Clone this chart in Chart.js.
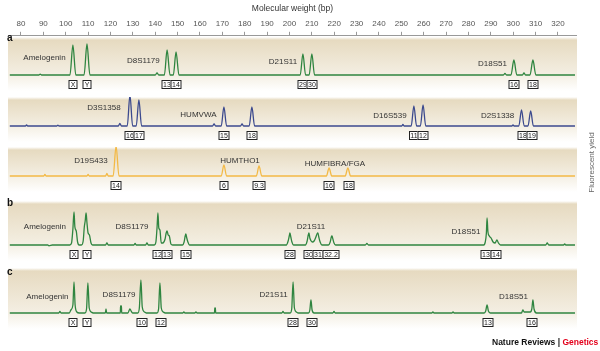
<!DOCTYPE html>
<html>
<head>
<meta charset="utf-8">
<script src="https://cdn.jsdelivr.net/npm/chart.js@4.4.1/dist/chart.umd.min.js"></script>
<style>
  body { margin: 0; background: #fff; font-family: 'Liberation Sans', Arial, sans-serif; }
  #fig { position: relative; width: 600px; height: 351px; overflow: hidden; }
  canvas { position: absolute; left: 8px; }
  .lbl { position: absolute; font-weight: bold; font-size: 10px; color: #111; }
  #yield { position: absolute; left: 556px; top: 158px; width: 70px; text-align: center;
           font-size: 8px; color: #666; transform: rotate(-90deg); }
  #credit { position: absolute; left: 492px; top: 337px; font-size: 8.5px; font-weight: bold; color: #111; }
  #credit span { color: #e3001b; }
</style>
</head>
<body>
<div id="fig">
  <canvas id="axis" width="569" height="72" style="top:0px"></canvas>
  <canvas id="rowA1" width="569" height="60" style="top:37px"></canvas>
  <canvas id="rowA2" width="569" height="50" style="top:97px"></canvas>
  <canvas id="rowA3" width="569" height="50" style="top:147px"></canvas>
  <canvas id="rowB" width="569" height="62" style="top:201px"></canvas>
  <canvas id="rowC" width="569" height="64" style="top:268px"></canvas>
  <div class="lbl" style="left:7px;top:32px">a</div>
  <div class="lbl" style="left:7px;top:197px">b</div>
  <div class="lbl" style="left:7px;top:266px">c</div>
  <div id="yield">Fluorescent yield</div>
  <div id="credit">Nature Reviews | <span>Genetics</span></div>
</div>
<script>
// size range of the trace (bp)
const bpMin = 74.2, bpMax = 328.5;

// traces: [size in bp, fluorescence]
const traceA1 = [[75,0],[88,0],[88.6,0.8],[89.2,0],
  [101.9,0],[103.2,30],[104.5,0],[108.2,0],[109.5,31],[110.8,0],
  [140.0,0],[140.8,2],[141.6,0],[144.1,0],[145.3,25],[146.6,0],[148.1,0],[149.3,23],[150.6,0],
  [204.8,0],[206.0,21],[207.2,0],[208.8,0],[210.0,21],[211.2,0],
  [295.6,0],[296.3,1.5],[297.0,0],[299.0,0],[300.3,15],[301.6,0],
  [304.1,0],[304.8,2],[305.5,0],[307.5,0],[308.8,15],[310.1,0],[327.6,0]];

const traceA2 = [[75,0],[82,0],[82.5,1],[83,0],[96,0],[96.5,0.8],[97,0],
  [123.5,0],[124.2,2.5],[124.9,0],[127.5,0],[128.7,31],[129.9,0],[131.5,0],[132.7,26],[133.9,0],
  [165.6,0],[166.3,2],[167.0,0],[169.5,0],[170.7,19],[171.9,0],
  [178.1,0],[178.8,2],[179.5,0],[182.0,0],[183.2,19],[184.4,0],
  [250.2,0],[250.7,1.5],[251.2,0],[254.4,0],[255.6,20],[256.8,0],[258.5,0],[259.7,21],[260.9,0],
  [299.4,0],[299.9,1],[300.4,0],[302.5,0],[303.7,16],[304.9,0],[306.6,0],[307.8,15],[309.0,0],[327.6,0]];

const traceA3 = [[75,0],[90.2,0],[90.7,1.5],[91.2,0],[109.5,0],[110.0,1.5],[110.5,0],
  [117.8,0],[118.4,2.5],[119.0,0],[121.2,0],[122.5,30],[123.8,0],
  [169.5,0],[170.7,11],[171.9,0],[185.2,0],[186.4,10],[187.6,0],
  [216.5,0],[217.7,8],[218.9,0],[224.9,0],[226.1,8],[227.3,0],[327.6,0]];

const traceB = [[75,0],[92,0],[92.5,-0.8],[94,0],
  [101.8,0],[102.6,2],[103.2,16],[103.7,33],[104.1,18],[104.7,14],[105.3,3],[106.0,0],
  [107.0,0],[107.8,4],[108.3,18],[108.7,24],[109.1,32],[109.5,22],[110.0,12],[110.6,10],[111.3,2],[112.0,0],
  [117.8,0],[118.4,2],[119.0,0],[130.5,0],[131.0,1.5],[131.5,0],[135.7,0],[136.3,2],[136.9,0],
  [139.6,0],[140.3,3],[140.8,17],[141.2,32],[141.6,17],[142.1,15],[142.7,2],
  [143.4,2],[144.4,6],[144.9,12],[145.3,14],[145.8,10],[146.3,9],[147.0,1],[147.8,0],
  [152.2,0],[152.9,3],[153.4,9],[153.7,11],[154.1,7],[154.6,3],[155.3,0],
  [198.6,0],[199.4,4],[199.9,9],[200.2,12],[200.6,8],[201.1,3],[201.8,0],
  [207.1,0],[207.9,4],[208.4,10],[208.7,12],[209.1,7],[209.7,4],[210.2,3],
  [211.0,4],[211.8,8],[212.3,11],[212.7,12],[213.1,8],[213.7,3],[214.5,0],
  [217.4,0],[218.2,3],[218.7,8],[219.0,9],[219.4,6],[219.9,2],[220.6,0],
  [233.9,0],[234.6,1.5],[235.3,0],
  [286.8,0],[287.5,3],[288.0,12],[288.3,27],[288.7,13],[289.3,9],[290.1,7],[291.0,3],[291.9,2],[292.7,5],[293.4,2],[294.3,0],
  [314.5,0],[315.2,2],[315.9,0],[322.5,0],[323.0,1],[323.5,0],[327.6,0]];

const traceC = [[75,0],[96.9,0],[97.4,1.5],[97.9,0],
  [101.6,0],[102.3,3],[103.2,8],[103.7,31],[104.2,8],[105.0,1],[106.0,0],
  [108.6,0],[109.3,4],[109.9,30],[110.5,5],[111.4,1],[112.3,0],
  [117.7,0],[118.0,4],[118.3,0],[124.4,0],[124.5,7],[124.9,7],[125.0,0],
  [127.8,0],[128.4,3],[128.7,4],[129.2,2],[129.9,0],
  [132.2,0],[132.9,5],[133.6,33],[134.2,6],[135.2,1],[136.0,0],
  [140.8,0],[141.5,4],[142.1,30],[142.7,5],[143.6,1],[144.5,0],
  [152.3,0],[152.8,1],[153.3,0],[157.7,0],[158.2,1],[158.7,0],
  [166.5,0],[166.6,5],[166.9,5],[167.0,0],[196.6,0],[197.1,1.5],[197.6,0],
  [200.3,0],[201.0,4],[201.6,31],[202.2,5],[203.1,1],[204.0,0],
  [208.5,0],[209.1,3],[209.6,13],[210.1,3],[211.0,0],[219.4,0],[219.9,1.5],[220.4,0],
  [263.6,0],[264.1,1],[264.6,0],[272.6,0],[273.1,1],[273.6,0],
  [287.0,0],[287.7,2],[288.3,8],[288.9,2],[289.8,0],
  [303.7,0],[304.3,3],[304.9,1],[307.6,1],[308.3,4],[308.8,13],[309.3,4],[310.4,0],[327.6,0]];

// allele calls: [label, size in bp]
const allelesA1 = [['X',103.2],['Y',109.5],['13',145.3],['14',149.3],['29',206.0],['30',210.0],['16',300.3],['18',308.8]];
const allelesA2 = [['16',128.9],['17',132.9],['15',170.7],['18',183.4],['11',255.6],['12',259.7],['18',304.2],['19',308.4]];
const allelesA3 = [['14',122.5],['6',170.7],['9.3',186.6],['16',217.7],['18',226.4]];
const allelesB = [['X',103.5],['Y',109.3],['12',141.2],['13',145.4],['15',153.7],['28',200.2],['30',208.7],['31',212.8],['32.2',218.6],['13',288.0],['14',292.4]];
const allelesC = [['X',103.4],['Y',109.6],['10',134.2],['12',142.5],['28',201.6],['30',210.2],['13',288.6],['16',308.6]];

// locus names: [name, size in bp, fluorescence]
const lociA1 = [['Amelogenin',90.5,17],['D8S1179',134.7,14],['D21S11',197.1,13],['D18S51',290.7,11]];
const lociA2 = [['D3S1358',117.1,18],['HUMVWA',159.3,11],['D16S539',244.9,10],['D2S1338',293.0,10]];
const lociA3 = [['D19S433',111.3,15],['HUMTHO1',177.9,15],['HUMFIBRA/FGA',220.3,12]];
const lociB = [['Amelogenin',90.7,18],['D8S1179',129.6,18],['D21S11',209.6,18],['D18S51',278.9,13]];
const lociC = [['Amelogenin',91.8,16],['D8S1179',123.8,18],['D21S11',192.9,18],['D18S51',300.1,16]];

const FONT = "'Liberation Sans', Arial, sans-serif";

function makeRow(id, trace, color, alleles, loci, yMin, yMax) {
  const deco = {
    id: 'deco',
    beforeDraw(chart) {
      const ctx = chart.ctx, a = chart.chartArea;
      const base = chart.scales.y.getPixelForValue(0);
      const h = a.bottom - a.top;
      const g = ctx.createLinearGradient(0, a.top, 0, a.bottom);
      g.addColorStop(0, '#ffffff');
      g.addColorStop(3 / h, '#e6dac0');
      g.addColorStop((base - a.top) / h, '#f4efe3');
      g.addColorStop(Math.min(1, (base - a.top + 16) / h), '#ffffff');
      g.addColorStop(1, '#ffffff');
      ctx.save();
      ctx.fillStyle = g;
      ctx.fillRect(a.left, a.top, a.right - a.left, h);
      ctx.restore();
    },
    afterDatasetsDraw(chart) {
      const ctx = chart.ctx, xs = chart.scales.x, ys = chart.scales.y;
      const base = ys.getPixelForValue(0);
      ctx.save();
      ctx.textAlign = 'center';
      ctx.textBaseline = 'middle';
      ctx.font = '8px ' + FONT;
      ctx.fillStyle = '#333';
      loci.forEach(([name, bp, v]) => {
        ctx.fillText(name, xs.getPixelForValue(bp), ys.getPixelForValue(v));
      });
      ctx.font = '7px ' + FONT;
      alleles.forEach(([txt, bp]) => {
        const px = Math.round(xs.getPixelForValue(bp));
        const w = Math.max(9, Math.round(ctx.measureText(txt).width + 3));
        const top = Math.round(base) + 5;
        ctx.fillStyle = '#fff';
        ctx.fillRect(px - w / 2, top, w, 9);
        ctx.strokeStyle = '#222';
        ctx.lineWidth = 1;
        ctx.strokeRect(px - w / 2 + 0.5, top + 0.5, w - 1, 8);
        ctx.fillStyle = '#222';
        ctx.fillText(txt, px, top + 5);
      });
      ctx.restore();
    }
  };
  return new Chart(document.getElementById(id), {
    type: 'line',
    data: {
      datasets: [{
        data: trace.map(([x, y]) => ({ x, y })),
        borderColor: color,
        borderWidth: 1.3,
        pointRadius: 0,
        cubicInterpolationMode: 'monotone',
        fill: false
      }]
    },
    options: {
      responsive: false,
      animation: false,
      layout: { padding: 0 },
      plugins: { legend: { display: false }, tooltip: { enabled: false } },
      scales: {
        x: { type: 'linear', min: bpMin, max: bpMax, display: false },
        y: { min: yMin, max: yMax, display: false }
      }
    },
    plugins: [deco]
  });
}

// top size axis
new Chart(document.getElementById('axis'), {
  type: 'line',
  data: { datasets: [{ data: [] }] },
  options: {
    responsive: false,
    animation: false,
    layout: { padding: 0 },
    plugins: { legend: { display: false }, tooltip: { enabled: false } },
    scales: {
      x: {
        type: 'linear', position: 'top', min: bpMin, max: bpMax,
        ticks: { stepSize: 10, includeBounds: false, color: '#555', font: { size: 8, family: FONT }, padding: 3, maxRotation: 0 },
        grid: { drawOnChartArea: false, tickLength: 4, color: '#999' },
        border: { color: '#999' },
        title: { display: true, text: 'Molecular weight (bp)', color: '#333', font: { size: 8.5, family: FONT }, padding: { top: 4, bottom: 2 } }
      },
      y: { display: false }
    }
  }
});

makeRow('rowA1', traceA1, '#2f8540', allelesA1, lociA1, -22, 38);
makeRow('rowA2', traceA2, '#3c4a8e', allelesA2, lociA2, -21, 29);
makeRow('rowA3', traceA3, '#f3b945', allelesA3, lociA3, -21, 29);
makeRow('rowB', traceB, '#2f8540', allelesB, lociB, -18, 44);
makeRow('rowC', traceC, '#2f8540', allelesC, lociC, -19, 45);
</script>
</body>
</html>
